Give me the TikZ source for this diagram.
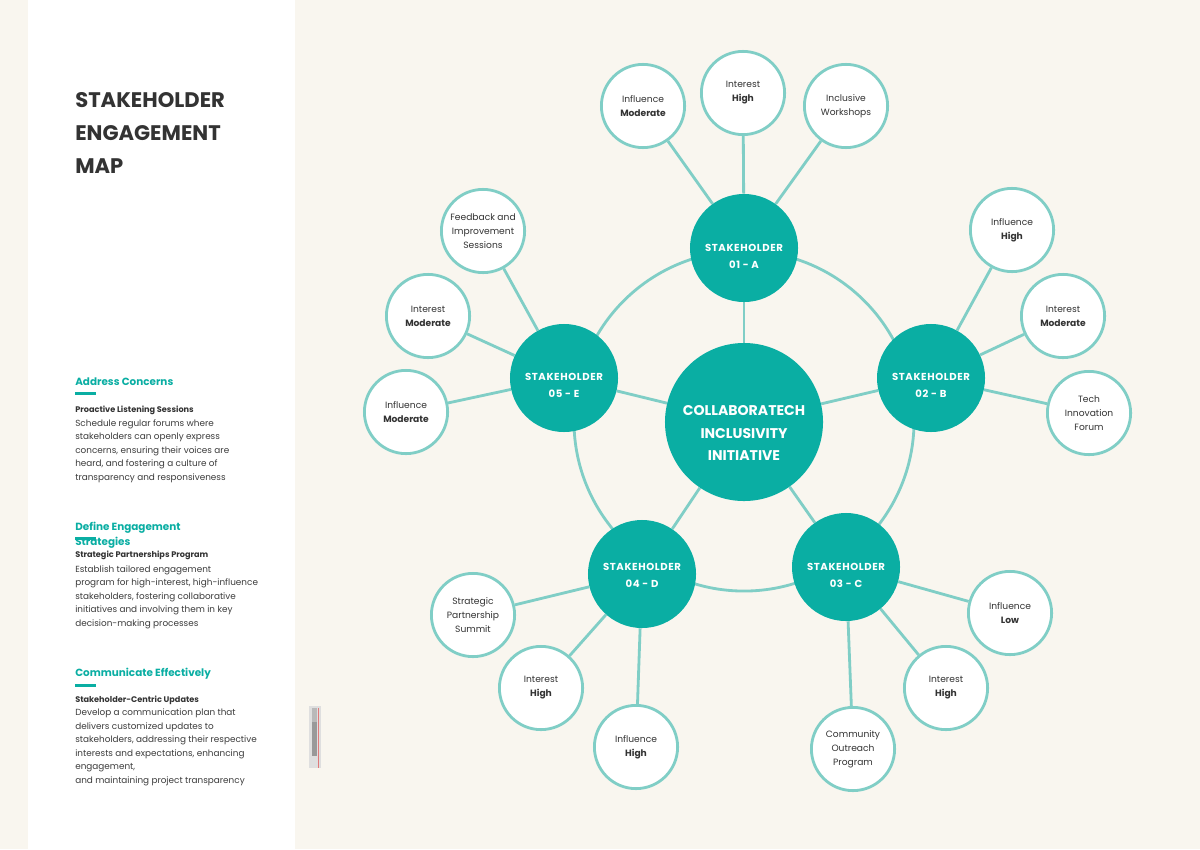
\documentclass[tikz,border=0pt]{standalone}
\usepackage{fontspec}
\setmainfont{Poppins}
\usetikzlibrary{backgrounds}
\definecolor{paper}{HTML}{F9F6EF}
\definecolor{hubteal}{HTML}{0AAEA3}
\definecolor{linkteal}{HTML}{80CEC6}
\definecolor{ink}{HTML}{333333}
\definecolor{inkbody}{HTML}{3C3C3C}
\definecolor{markred}{HTML}{E07A7A}

\begin{document}
\begin{tikzpicture}[x=0.025cm, y=-0.025cm,
    hub/.style   = {circle, fill=hubteal, minimum size=3.95cm, inner sep=0pt},
    stake/.style = {circle, fill=hubteal, minimum size=2.7cm, inner sep=0pt},
    htext/.style = {font=\fontsize{10}{16.3}\selectfont\bfseries, text=white, align=center},
    stext/.style = {font=\fontsize{7.2}{12}\selectfont\bfseries\addfontfeature{LetterSpace=6}, text=white, align=center},
    leaf/.style  = {circle, draw=linkteal, line width=2pt, fill=white, minimum size=2.08cm, inner sep=0pt,
                    align=center, text=ink, font=\fontsize{6.5}{10}\selectfont},
    link/.style  = {draw=linkteal, line width=2pt},
    title/.style = {anchor=base west, inner sep=0pt, font=\fontsize{15}{23.4}\selectfont\bfseries, text=ink, align=left},
    head/.style  = {anchor=base west, inner sep=0pt, font=\fontsize{7.4}{10}\selectfont\bfseries, text=hubteal, align=left},
    sub/.style   = {anchor=base west, inner sep=0pt, font=\fontsize{5.8}{8}\selectfont\bfseries, text=ink},
    body/.style  = {anchor=base west, inner sep=0pt, font=\fontsize{6.3}{9.6}\selectfont, text=inkbody, align=left},
    bar/.style   = {fill=hubteal},
  ]
    \useasboundingbox (0,0) rectangle (1200,849);

    % --- left panel (multi-line nodes sit on their last baseline) ---
    \node[title] (ttl) at (75,173) {STAKEHOLDER\\ENGAGEMENT\\MAP};

    \node[head] (h1) at (75,385) {Address Concerns};
    \fill[bar] (75,391.5) rectangle (96,394.5);
    \node[sub]  (s1) at (75,412) {Proactive Listening Sessions};
    \node[body] (b1) at (75,480) {Schedule regular forums where\\stakeholders can openly express\\concerns, ensuring their voices are\\heard, and fostering a culture of\\transparency and responsiveness};

    \node[head] (h2) at (75,545) {Define Engagement\\Strategies};
    \fill[bar] (75,536.5) rectangle (96,539.5);
    \node[sub]  (s2) at (75,557) {Strategic Partnerships Program};
    \node[body] (b2) at (75,626) {Establish tailored engagement\\program for high-interest, high-influence\\stakeholders, fostering collaborative\\initiatives and involving them in key\\decision-making processes};

    \node[head] (h3) at (75,676) {Communicate Effectively};
    \fill[bar] (75,683.5) rectangle (96,686.5);
    \node[sub]  (s3) at (75,702) {Stakeholder-Centric Updates};
    \node[body] (b3) at (75,783) {Develop a communication plan that\\delivers customized updates to\\stakeholders, addressing their respective\\interests and expectations, enhancing\\engagement,\\and maintaining project transparency};

    % small marker strip
    \fill[gray!25] (309,706) rectangle (321,768);
    \fill[gray!55] (312,708) rectangle (317,722);
    \fill[gray!80] (312,722) rectangle (317,756);
    \fill[markred] (317.5,708) rectangle (319,768);

    % --- hub and stakeholders ---
    \node[hub] (hub) at (744,422) {};
    \node[htext] (hubtxt) at (744,433) {COLLABORATECH\\INCLUSIVITY\\INITIATIVE};

    \node[stake] (sA) at (744,248) {};
    \node[stext] at (744,256) {STAKEHOLDER\\01 - A};
    \node[stake] (sB) at (931,378) {};
    \node[stext] at (931,385) {STAKEHOLDER\\02 - B};
    \node[stake] (sC) at (846,567) {};
    \node[stext] at (846,575) {STAKEHOLDER\\03 - C};
    \node[stake] (sD) at (642,574) {};
    \node[stext] at (642,575) {STAKEHOLDER\\04 - D};
    \node[stake] (sE) at (564,378) {};
    \node[stext] at (564,385) {STAKEHOLDER\\05 - E};

    % --- leaves ---
    % 01 - A
    \node[leaf] (a1) at (643,106) {Influence\\\textbf{Moderate}};
    \node[leaf] (a2) at (743,93)  {Interest\\\textbf{High}};
    \node[leaf] (a3) at (846,106) {Inclusive\\Workshops};
    % 02 - B
    \node[leaf] (b1) at (1012,230) {Influence\\\textbf{High}};
    \node[leaf] (b2) at (1063,316) {Interest\\\textbf{Moderate}};
    \node[leaf] (b3) at (1089,413) {Tech\\Innovation\\Forum};
    % 03 - C
    \node[leaf] (c1) at (1010,613) {Influence\\\textbf{Low}};
    \node[leaf] (c2) at (946,688)  {Interest\\\textbf{High}};
    \node[leaf] (c3) at (853,749)  {Community\\Outreach\\Program};
    % 04 - D
    \node[leaf] (d1) at (473,615) {Strategic\\Partnership\\Summit};
    \node[leaf] (d2) at (541,688) {Interest\\\textbf{High}};
    \node[leaf] (d3) at (636,747) {Influence\\\textbf{High}};
    % 05 - E
    \node[leaf] (e1) at (483,231) {Feedback and\\Improvement\\Sessions};
    \node[leaf] (e2) at (428,316) {Interest\\\textbf{Moderate}};
    \node[leaf] (e3) at (406,412) {Influence\\\textbf{Moderate}};

    % --- paper, ring and links behind ---
    \begin{scope}[on background layer]
      \fill[paper] (0,0) rectangle (1200,849);
      \fill[white] (28,0) rectangle (295,849);
      \coordinate (ringc) at (744,421);
      \draw[link] (ringc) circle (4.25cm);

      \draw[link] (hub) -- (sA);
      \draw[link] (hub) -- (sB);
      \draw[link] (hub) -- (sC);
      \draw[link] (hub) -- (sD);
      \draw[link] (hub) -- (sE);

      \draw[link] (sA) -- (a1);
      \draw[link] (sA) -- (a2);
      \draw[link] (sA) -- (a3);
      \draw[link] (sB) -- (b1);
      \draw[link] (sB) -- (b2);
      \draw[link] (sB) -- (b3);
      \draw[link] (sC) -- (c1);
      \draw[link] (sC) -- (c2);
      \draw[link] (sC) -- (c3);
      \draw[link] (sD) -- (d1);
      \draw[link] (sD) -- (d2);
      \draw[link] (sD) -- (d3);
      \draw[link] (sE) -- (e1);
      \draw[link] (sE) -- (e2);
      \draw[link] (sE) -- (e3);
    \end{scope}
  \end{tikzpicture}
\end{document}
